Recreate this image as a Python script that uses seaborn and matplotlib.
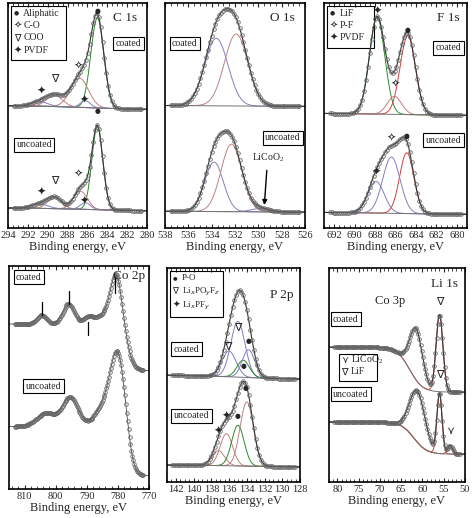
import numpy as np
import matplotlib
matplotlib.use("Agg")
import matplotlib.pyplot as plt
import seaborn as sns
from matplotlib.ticker import MultipleLocator
from matplotlib.patches import Rectangle

sns.set_style("white")
plt.rcParams['font.family'] = ['Liberation Serif', 'DejaVu Serif']
plt.rcParams['mathtext.fontset'] = 'custom'
plt.rcParams['mathtext.rm'] = 'Liberation Serif'

# ---- data: peak components (center eV, height, sigma, colour key) per panel, coated / uncoated
c1s_coated = [(285.0, 0.40, 0.65, 'g'), (286.8, 0.13, 0.9, 'm'), (286.2, 0.03, 0.5, 'b'), (289.3, 0.05, 0.8, 'm'), (290.8, 0.02, 0.8, 'b')]
c1s_uncoated = [(285.0, 0.37, 0.55, 'g'), (286.7, 0.08, 0.7, 'm'), (286.2, 0.03, 0.5, 'b'), (289.3, 0.05, 0.7, 'm'), (290.8, 0.02, 0.8, 'b')]
o1s_coated = [(533.6, 0.30, 1.0, 'b'), (531.9, 0.32, 1.0, 'm')]
o1s_uncoated = [(533.8, 0.22, 0.8, 'b'), (532.3, 0.30, 0.9, 'm'), (529.8, 0.015, 0.8, 'b')]
f1s_coated = [(687.8, 0.43, 0.75, 'g'), (684.8, 0.35, 0.75, 'r'), (686.1, 0.08, 0.7, 'm')]
f1s_uncoated = [(684.9, 0.27, 0.7, 'r'), (686.4, 0.25, 0.85, 'b'), (687.9, 0.14, 0.8, 'b')]
co2p_coated = [(780.5, 0.22, 1.8, None), (784.5, 0.04, 2.5, None), (795.8, 0.09, 1.8, None), (804.5, 0.04, 1.5, None), (789.5, 0.03, 1.5, None)]
co2p_uncoated = [(780.0, 0.30, 2.2, None), (784.0, 0.10, 3.0, None), (795.3, 0.13, 2.5, None), (803.0, 0.06, 3.0, None)]
p2p_coated = [(136.0, 0.12, 0.8, 'b'), (135.0, 0.26, 0.8, 'b'), (134.4, 0.08, 0.7, 'g'), (133.8, 0.13, 0.7, 'b')]
p2p_uncoated = [(137.2, 0.07, 0.7, 'm'), (136.3, 0.15, 0.7, 'm'), (135.0, 0.19, 0.7, 'g'), (134.0, 0.30, 0.75, 'm')]
li1s_coated = [(61.5, 0.24, 1.5, None), (56.0, 0.36, 0.8, 'r')]
li1s_uncoated = [(61.2, 0.24, 1.8, None), (56.0, 0.28, 0.6, 'r'), (53.5, 0.04, 0.6, 'r')]

# background: (value at high BE, value at low BE, step centre, step width)
bg = {
    'c1s': [(0.545, 0.525, 286, 3), (0.09, 0.075, 286, 3)],
    'o1s': [(0.545, 0.54, 532, 3), (0.075, 0.07, 532, 3)],
    'f1s': [(0.51, 0.50, 686, 3), (0.07, 0.06, 686, 3)],
    'co2p': [(0.74, 0.53, 777, 1.2), (0.28, 0.06, 776.5, 1.0)],
    'p2p': [(0.50, 0.48, 135, 3), (0.08, 0.07, 135, 3)],
    'li1s': [(0.63, 0.42, 63, 1.5), (0.28, 0.13, 62, 1.5)],
}

cmap = {'g': '#2a8a2a', 'm': '#c08080', 'b': '#8080c0', 'r': '#d04040'}

def gauss(x, c, h, s):
    return h * np.exp(-0.5 * ((x - c) / s) ** 2)

def background(x, p):
    hi, lo, c, w = p
    return lo + (hi - lo) / (1 + np.exp(-(x - c) / w))

def draw_spec(ax, xr, comps, bgp, fit=True, n=70):
    lo, hi = min(xr), max(xr)
    x = np.linspace(lo, hi, 400)
    b = background(x, bgp)
    tot = b.copy()
    for c, h, s, col in comps:
        g = gauss(x, c, h, s)
        tot += g
        if fit and col:
            sns.lineplot(x=x, y=b + g, ax=ax, color=cmap[col], lw=0.7)
    if fit:
        sns.lineplot(x=x, y=b, ax=ax, color='0.45', lw=0.7)
        sns.lineplot(x=x, y=tot, ax=ax, color='0.2', lw=0.8)
    else:
        sns.lineplot(x=x, y=tot, ax=ax, color='0.3', lw=0.6)
    xs = np.linspace(lo + 0.04 * (hi - lo), hi - 0.04 * (hi - lo), n)
    ys = background(xs, bgp) + sum(gauss(xs, c, h, s) for c, h, s, _ in comps)
    ax.plot(xs, ys, ls='none', marker='o', ms=2.6, mfc='none', mec='0.4', mew=0.6)

def style(ax, xr, major, minor, ticks):
    ax.set_xlim(xr)
    ax.set_ylim(0, 1)
    ax.set_yticks([])
    ax.set_ylabel('')
    ax.set_xticks(ticks)
    ax.xaxis.set_minor_locator(MultipleLocator(minor))
    ax.tick_params(axis='x', which='both', direction='in', top=True, bottom=True, labelsize=7.5, length=3, pad=2)
    ax.tick_params(axis='x', which='minor', length=2)
    for sp in ax.spines.values():
        sp.set_linewidth(1.2)
        sp.set_color('k')
    ax.set_xlabel('Binding energy, eV', fontsize=9, labelpad=1)

def box(ax, x, y, t, ha='left'):
    ax.text(x, y, t, transform=ax.transAxes, fontsize=7, ha=ha, va='center',
            bbox=dict(boxstyle='square,pad=0.25', fc='white', ec='k', lw=0.8))

SYM = {'dot': '●', 'star': '✧', 'tri': '∇', 'plus': '✦', 'v': '⋎'}
SCALE = {'dot': 0.6}

def legend(ax, x, y, entries, w, dy=0.055, fs=7):
    for i, (sym, lab) in enumerate(entries):
        yy = y - 0.03 - i * dy
        ax.text(x + 0.02, yy, SYM[sym], transform=ax.transAxes, family='DejaVu Sans', fontsize=fs * SCALE.get(sym, 1), va='center')
        ax.text(x + 0.09, yy, lab, transform=ax.transAxes, fontsize=fs, va='center')
    h = 0.03 + len(entries) * dy - 0.01
    ax.add_patch(Rectangle((x, y - h), w, h, transform=ax.transAxes, fill=False, ec='k', lw=0.8))

def mark(ax, x, y, sym, fs=8):
    ax.text(x, y, SYM[sym], family='DejaVu Sans', fontsize=fs * SCALE.get(sym, 1), ha='center', va='center', zorder=5)

fig = plt.figure(figsize=(4.74, 5.18), dpi=100)
W, H = 474, 518
def axes(x0, x1, y0, y1):
    return fig.add_axes([x0 / W, 1 - y1 / H, (x1 - x0) / W, (y1 - y0) / H])

# C 1s
ax = axes(8, 147, 3, 228)
xr = (294, 280)
draw_spec(ax, xr, c1s_coated, bg['c1s'][0])
draw_spec(ax, xr, c1s_uncoated, bg['c1s'][1])
style(ax, xr, 2, 0.5, np.arange(294, 279, -2))
ax.text(0.93, 0.92, 'C 1s', transform=ax.transAxes, ha='right', fontsize=9.5)
box(ax, 0.96, 0.82, 'coated', ha='right')
box(ax, 0.06, 0.37, 'uncoated')
legend(ax, 0.02, 0.985, [('dot', 'Aliphatic'), ('star', 'C-O'), ('tri', 'COO'), ('plus', 'PVDF')], 0.4)
for (x, y, m) in [(285.0, 0.965, 'dot'), (286.9, 0.72, 'star'), (289.3, 0.66, 'tri'), (290.7, 0.61, 'plus'), (286.3, 0.57, 'plus'),
                  (285.0, 0.52, 'dot'), (286.9, 0.24, 'star'), (289.3, 0.21, 'tri'), (290.7, 0.16, 'plus'), (286.3, 0.12, 'plus')]:
    mark(ax, x, y, m)

# O 1s
ax = axes(165, 305, 3, 228)
xr = (538, 526)
draw_spec(ax, xr, o1s_coated, bg['o1s'][0])
draw_spec(ax, xr, o1s_uncoated, bg['o1s'][1])
style(ax, xr, 2, 0.5, np.arange(538, 525, -2))
ax.text(0.93, 0.92, 'O 1s', transform=ax.transAxes, ha='right', fontsize=9.5)
box(ax, 0.05, 0.82, 'coated')
box(ax, 0.97, 0.40, 'uncoated', ha='right')
ax.annotate('LiCoO$_2$', xy=(529.5, 0.09), xytext=(529.2, 0.30), fontsize=7, ha='center',
            arrowprops=dict(arrowstyle='-|>', color='k', lw=1))

# F 1s
ax = axes(324, 467, 3, 228)
xr = (693, 679)
draw_spec(ax, xr, f1s_coated, bg['f1s'][0])
draw_spec(ax, xr, f1s_uncoated, bg['f1s'][1])
style(ax, xr, 2, 0.5, np.arange(692, 679, -2))
ax.text(0.95, 0.92, 'F 1s', transform=ax.transAxes, ha='right', fontsize=9.5)
box(ax, 0.96, 0.80, 'coated', ha='right')
box(ax, 0.96, 0.39, 'uncoated', ha='right')
legend(ax, 0.02, 0.985, [('dot', 'LiF'), ('star', 'P-F'), ('plus', 'PVDF')], 0.33)
for (x, y, m) in [(687.8, 0.965, 'plus'), (684.8, 0.88, 'dot'), (686.0, 0.64, 'star'),
                  (684.9, 0.41, 'dot'), (686.4, 0.40, 'star'), (687.9, 0.25, 'plus')]:
    mark(ax, x, y, m)

# Co 2p
ax = axes(9, 149, 266, 489)
xr = (815, 770)
draw_spec(ax, xr, co2p_coated, bg['co2p'][0], fit=False, n=140)
draw_spec(ax, xr, co2p_uncoated, bg['co2p'][1], fit=False, n=140)
style(ax, xr, 10, 2, np.arange(810, 769, -10))
ax.text(0.97, 0.94, 'Co 2p', transform=ax.transAxes, ha='right', fontsize=9.5)
box(ax, 0.05, 0.95, 'coated')
box(ax, 0.12, 0.46, 'uncoated')
for x, y0, y1 in [(804.5, 0.78, 0.84), (795.8, 0.83, 0.89), (789.5, 0.69, 0.75), (780.8, 0.88, 0.95)]:
    ax.plot([x, x], [y0, y1], color='k', lw=0.9)

# P 2p
ax = axes(167, 300, 268, 482)
xr = (143, 128)
draw_spec(ax, xr, p2p_coated, bg['p2p'][0])
draw_spec(ax, xr, p2p_uncoated, bg['p2p'][1])
style(ax, xr, 2, 0.5, np.arange(142, 127, -2))
ax.text(0.95, 0.86, 'P 2p', transform=ax.transAxes, ha='right', fontsize=9.5)
box(ax, 0.05, 0.62, 'coated')
box(ax, 0.05, 0.31, 'uncoated')
legend(ax, 0.02, 0.985, [('dot', 'P-O'), ('tri', 'Li$_x$PO$_y$F$_z$'), ('plus', 'Li$_x$PF$_y$')], 0.4, dy=0.065, fs=6.5)
for (x, y, m) in [(135.0, 0.72, 'tri'), (136.1, 0.63, 'tri'), (133.8, 0.66, 'dot'), (134.4, 0.54, 'dot'),
                  (134.2, 0.44, 'dot'), (135.0, 0.31, 'dot'), (136.3, 0.31, 'plus'), (137.2, 0.24, 'plus')]:
    mark(ax, x, y, m)

# Li 1s
ax = axes(329, 465, 268, 482)
xr = (82, 50)
draw_spec(ax, xr, li1s_coated, bg['li1s'][0], n=110)
draw_spec(ax, xr, li1s_uncoated, bg['li1s'][1], n=110)
style(ax, xr, 5, 1, np.arange(80, 49, -5))
ax.text(0.95, 0.91, 'Li 1s', transform=ax.transAxes, ha='right', fontsize=9.5)
ax.text(0.45, 0.83, 'Co 3p', transform=ax.transAxes, ha='center', fontsize=9)
box(ax, 0.03, 0.76, 'coated')
box(ax, 0.03, 0.41, 'uncoated')
legend(ax, 0.07, 0.60, [('v', 'LiCoO$_2$'), ('tri', 'LiF')], 0.28)
for (x, y, m) in [(56.0, 0.84, 'tri'), (56.0, 0.50, 'tri'), (53.3, 0.24, 'v')]:
    mark(ax, x, y, m)

fig.savefig('out.png', dpi=100)
